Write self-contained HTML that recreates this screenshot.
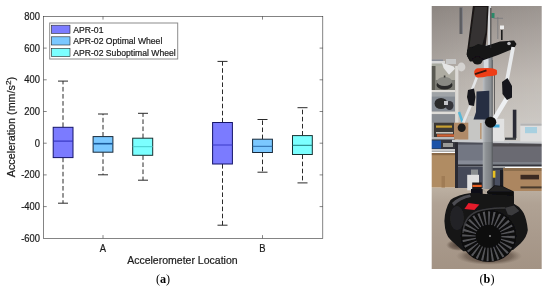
<!DOCTYPE html>
<html><head><meta charset="utf-8">
<style>
html,body{margin:0;padding:0;background:#fff;}
svg{display:block;}
text{font-family:"Liberation Sans",sans-serif;fill:#1c1c1c;stroke:#1c1c1c;stroke-width:0.22px;}
.cap{font-family:"Liberation Serif",serif;fill:#000;font-size:12.2px;stroke:none;}
</style></head><body>
<svg width="550" height="289" viewBox="0 0 550 289">
<rect width="550" height="289" fill="#fff"/>
<!-- axes -->
<g id="axes" stroke="#333" stroke-width="0.6" fill="none">
<rect x="43.5" y="16.4" width="279.3" height="221.9"/>
<!-- y ticks left -->
<path d="M43.5 48.1h3.2M43.5 79.8h3.2M43.5 111.5h3.2M43.5 143.2h3.2M43.5 174.9h3.2M43.5 206.6h3.2"/>
<path d="M322.8 48.1h-3.2M322.8 79.8h-3.2M322.8 111.5h-3.2M322.8 143.2h-3.2M322.8 174.9h-3.2M322.8 206.6h-3.2"/>
<path d="M103 238.3v-3.2M262.5 238.3v-3.2M103 16.4v3.2M262.5 16.4v3.2"/>
</g>
<g transform="scale(0.94,1)">
<g font-size="10" text-anchor="end">
<text x="42.55" y="19.9">800</text>
<text x="42.55" y="51.6">600</text>
<text x="42.55" y="83.3">400</text>
<text x="42.55" y="115">200</text>
<text x="42.55" y="146.7">0</text>
<text x="42.55" y="178.4">-200</text>
<text x="42.55" y="210.1">-400</text>
<text x="42.55" y="241.8">-600</text>
</g>
<g font-size="10" text-anchor="middle">
<text x="109.57" y="252">A</text>
<text x="279.26" y="252">B</text>
</g>
<text x="194.04" y="264.3" font-size="11.2" text-anchor="middle">Accelerometer Location</text>
</g>
<text transform="translate(15.3,127) rotate(-90) scale(0.98,0.95)" font-size="11" text-anchor="middle">Acceleration (mm/s<tspan dy="-4.2" font-size="8.5">2</tspan><tspan dy="4.2">)</tspan></text>
<!-- whiskers -->
<g stroke="#2a2a2a" stroke-width="1" fill="none">
<g stroke-dasharray="4.6 2.5">
<path d="M63 127V81.1M63 157.6V203.2"/>
<path d="M103 136.6V114M103 152.2V174.8"/>
<path d="M143 138.2V113.3M143 155.3V180.2"/>
<path d="M222.5 122.5V61.4M222.5 164V225.2"/>
<path d="M262.5 139.2V119.5M262.5 152.5V172.2"/>
<path d="M302.5 135.6V107.7M302.5 154.5V182.9"/>
</g>
<path d="M58 81.1h10M58 203.2h10M98 114h10M98 174.8h10M138 113.3h10M138 180.2h10M217.5 61.4h10M217.5 225.2h10M257.5 119.5h10M257.5 172.2h10M297.5 107.7h10M297.5 182.9h10"/>
</g>
<!-- boxes -->
<g stroke-width="1">
<rect x="53.2" y="127.3" width="19.8" height="30.3" fill="#7b7bff" stroke="#15156a"/>
<path d="M53.2 141.1H73" stroke="#2c2cb8"/>
<rect x="93.1" y="136.6" width="19.8" height="15.6" fill="#7bc8ff" stroke="#182838"/>
<path d="M93.1 143.7H112.9" stroke="#1a5a9a" stroke-width="1.6"/>
<rect x="132.7" y="138.2" width="20" height="17.1" fill="#7bffff" stroke="#183030"/>
<path d="M132.7 146.7H152.7" stroke="#48cccc"/>
<rect x="212.6" y="122.5" width="19.8" height="41.5" fill="#7b7bff" stroke="#15156a"/>
<path d="M212.6 145H232.4" stroke="#3a3ac8"/>
<rect x="252.6" y="139.2" width="19.8" height="13.3" fill="#7bc8ff" stroke="#182838"/>
<path d="M252.6 146.3H272.4" stroke="#2868a8"/>
<rect x="292.5" y="135.6" width="19.8" height="18.9" fill="#7bffff" stroke="#183030"/>
<path d="M292.5 145.3H312.3" stroke="#1c7878"/>
</g>
<!-- legend -->
<rect x="49.7" y="23.0" width="128" height="36" fill="#fff" stroke="#8c8c8c" stroke-width="1"/>
<g stroke="#262626" stroke-width="0.6">
<rect x="51.4" y="25.2" width="18.6" height="8.2" fill="#7b7bff"/>
<rect x="51.4" y="36.8" width="18.6" height="8.2" fill="#7bc8ff"/>
<rect x="51.4" y="48.4" width="18.6" height="8.2" fill="#7bffff"/>
</g>
<g font-size="9.18" transform="scale(0.94,1)">
<text x="77.98" y="32.8">APR-01</text>
<text x="77.98" y="44.4">APR-02 Optimal Wheel</text>
<text x="77.98" y="56">APR-02 Suboptimal Wheel</text>
</g>
<text class="cap" x="163" y="282.7" text-anchor="middle">(<tspan font-weight="bold">a</tspan>)</text>
<text class="cap" x="487" y="282.7" text-anchor="middle">(<tspan font-weight="bold">b</tspan>)</text>
<!-- photo -->
<defs>
<clipPath id="pc"><rect x="431.7" y="6" width="110" height="263.2"/></clipPath>
<linearGradient id="wall" x1="0" y1="0" x2="0" y2="1">
<stop offset="0" stop-color="#958e89"/><stop offset="0.25" stop-color="#a8a19c"/><stop offset="0.55" stop-color="#bdb7b1"/><stop offset="0.85" stop-color="#c9c5c0"/><stop offset="1" stop-color="#ccc8c4"/>
</linearGradient>
<linearGradient id="wallv" x1="0" y1="0" x2="1" y2="0">
<stop offset="0" stop-color="#000" stop-opacity="0.06"/><stop offset="0.45" stop-color="#000" stop-opacity="0"/><stop offset="0.55" stop-color="#fff" stop-opacity="0"/><stop offset="1" stop-color="#fff" stop-opacity="0.06"/>
</linearGradient>
<linearGradient id="floor" x1="0" y1="0" x2="0" y2="1">
<stop offset="0" stop-color="#bcb0a2"/><stop offset="0.2" stop-color="#b0a294"/><stop offset="0.6" stop-color="#a99a8c"/><stop offset="1" stop-color="#a39384"/>
</linearGradient>
<linearGradient id="pole" x1="0" y1="0" x2="1" y2="0">
<stop offset="0" stop-color="#bcc0c4"/><stop offset="0.3" stop-color="#9ea2a6"/><stop offset="0.8" stop-color="#8a8e92"/><stop offset="1" stop-color="#5c6064"/>
</linearGradient>
<radialGradient id="shad" cx="0.5" cy="0.5" r="0.5">
<stop offset="0" stop-color="#3a2c24" stop-opacity="0.85"/><stop offset="0.7" stop-color="#4a3a30" stop-opacity="0.5"/><stop offset="1" stop-color="#6a5a4c" stop-opacity="0"/>
</radialGradient>
<filter id="bl" x="-5%" y="-5%" width="110%" height="110%"><feGaussianBlur stdDeviation="0.5"/></filter>
</defs>
<g id="photo" clip-path="url(#pc)">
<g filter="url(#bl)">
<rect x="425" y="6" width="125" height="136" fill="url(#wall)"/>
<rect x="431.7" y="6" width="110" height="136" fill="url(#wallv)"/>
<!-- floor -->
<rect x="425" y="187.5" width="125" height="81.5" fill="url(#floor)"/>
<!-- pipe -->
<rect x="459.5" y="7.5" width="3.2" height="26.5" fill="#5c5d61"/>
<rect x="461.9" y="7.5" width="0.9" height="26.5" fill="#85868a"/>
<!-- shelf unit left -->
<rect x="431" y="68" width="24" height="84" fill="#9a9c9c"/>
<rect x="431" y="59.5" width="12" height="1.6" fill="#8a8e98"/>
<rect x="431" y="61" width="14" height="2.8" fill="#d8d8d8"/>
<rect x="431" y="63.6" width="14" height="4.6" fill="#a8aaa0"/>
<rect x="431" y="66" width="24" height="24" fill="#aeaca2"/>
<rect x="431" y="66" width="4.5" height="24" fill="#5a5a52"/>
<rect x="435" y="80" width="20" height="10" fill="#7c7c74"/>
<rect x="446" y="59" width="10" height="5" fill="#c8c8c8"/>
<ellipse cx="444.5" cy="85" rx="8" ry="4.5" fill="#2c2c2a"/>
<ellipse cx="444.5" cy="81.5" rx="7.5" ry="4.6" fill="#8a8a84"/>
<rect x="443.8" y="75.5" width="1.6" height="2" fill="#3a3a38"/>
<rect x="431" y="90" width="24" height="2.6" fill="#dedcd8"/>
<rect x="431" y="92.6" width="24" height="19" fill="#868c94"/>
<rect x="431" y="92.6" width="24" height="4" fill="#a0a4a8"/>
<ellipse cx="441" cy="103.5" rx="6.5" ry="5.5" fill="#2a2a2c"/>
<ellipse cx="449.5" cy="105.5" rx="4" ry="4.5" fill="#34343a"/>
<rect x="444" y="101" width="4" height="4" fill="#c4c4c8"/>
<rect x="431" y="111.6" width="24" height="2.6" fill="#dedcd8"/>
<rect x="431" y="114.2" width="24" height="8.5" fill="#8a8e94"/>
<rect x="434" y="122.7" width="20" height="14.3" fill="#3a3836"/>
<rect x="436" y="125.5" width="16" height="2.2" fill="#c8a030"/>
<rect x="436" y="132" width="17" height="1.6" fill="#c8c4bc"/>
<rect x="437" y="134.3" width="17" height="2.4" fill="#d06030"/>
<rect x="431" y="137" width="24" height="2.5" fill="#b8babc"/>
<rect x="431" y="139.5" width="24" height="9.5" fill="#34363c"/>
<rect x="431" y="140.5" width="10" height="8" fill="#1c52a8"/>
<rect x="443" y="143" width="10" height="4" fill="#9a9a98"/>
<rect x="431" y="149" width="24" height="2.4" fill="#cacaca"/>
<rect x="455.2" y="66" width="3.2" height="74" fill="#dcdad6"/>
<!-- lamp -->
<polygon points="441.8,62.5 453.6,66.5 455,68.8 449,74.7 443.6,68" fill="#e6e6e6"/>
<ellipse cx="461.4" cy="67" rx="4" ry="4.4" fill="#d4d2d0"/>
<!-- table & under -->
<rect x="458" y="142" width="26" height="23" fill="#737783"/>
<rect x="458" y="142" width="26" height="2.6" fill="#4e505a"/>
<rect x="458" y="160.5" width="26" height="4" fill="#878b97"/>
<rect x="490" y="142" width="57" height="21" fill="#6a6a72"/>
<rect x="490" y="143.5" width="57" height="3" fill="#4c4a4e"/>
<rect x="490" y="162" width="57" height="4" fill="#7c8088"/>
<rect x="455" y="140" width="3" height="48" fill="#2a2a30"/>
<rect x="458" y="164.5" width="89" height="2" fill="#34363e"/>
<rect x="458" y="166.5" width="26" height="21.5" fill="#454858"/>
<rect x="490" y="167.5" width="15" height="22" fill="#35373f"/>
<polygon points="452,139.8 545,141.4 545,143.7 452,142.1" fill="#c8cacd"/>
<!-- clutter on table -->
<rect x="468" y="116" width="15" height="24" fill="#c6c6c4"/>
<rect x="454" y="122.7" width="14.3" height="16.8" fill="#b08a68"/>
<ellipse cx="461.7" cy="127.7" rx="4" ry="4.3" fill="#1c1a1a"/>
<rect x="480" y="123" width="1.6" height="16" fill="#b89878"/>
<rect x="492.2" y="118.8" width="12" height="22.5" fill="#e2e2e2"/>
<rect x="492.5" y="124.5" width="7" height="3" fill="#40a8d8"/>
<rect x="512.8" y="109.7" width="3.6" height="28.5" fill="#2a2c34"/>
<rect x="505" y="137.6" width="11" height="2.2" fill="#3a3c40"/>
<rect x="520.3" y="123.5" width="21.7" height="18" fill="#dedede"/>
<rect x="520.3" y="123.5" width="21.7" height="2.2" fill="#b4b4b4"/>
<rect x="525" y="127" width="12" height="6.2" fill="#a8d0e0"/>
<path d="M459 112 L462.5 122" stroke="#58b8d8" stroke-width="2.4"/>
<!-- boxes -->
<rect x="431" y="153" width="24" height="34.5" fill="#b08c63"/>
<rect x="431" y="153" width="24" height="2.2" fill="#8a6a48"/>
<rect x="441.5" y="176" width="3.5" height="11.5" fill="#a07c54"/>
<rect x="503.3" y="168" width="40" height="23" fill="#ac8660"/>
<rect x="503.3" y="168" width="40" height="3" fill="#8c6e4e"/>
<rect x="520.5" y="174.8" width="18.5" height="4.6" fill="#3a2c24"/>
<rect x="520.5" y="186.4" width="22" height="2" fill="#4a3a2e"/>
<rect x="471" y="169.5" width="7" height="6" fill="#8a8e90"/>
<rect x="467.2" y="174.8" width="11.8" height="15.5" fill="#e0e0e0"/>
<rect x="495" y="170" width="7" height="16" fill="#4a5060"/>
<rect x="500" y="170" width="3" height="18" fill="#1a1a20"/>
<rect x="492.2" y="170.7" width="3.2" height="7" fill="#e8c020"/>
<!-- central pole -->
<rect x="482.8" y="60" width="10" height="129" fill="url(#pole)"/>
<rect x="488" y="6" width="3" height="60" fill="#d6d8da"/>
<rect x="484" y="45" width="8.5" height="30" fill="url(#pole)"/>
<rect x="484" y="50" width="4.5" height="26" fill="#d6dade"/>
<path d="M494.5 70 V118" stroke="#3a3838" stroke-width="0.7"/>
<!-- monitor -->
<polygon points="473,5 488.7,5 487,34 484,60 470,61 466.5,54.6 467.5,48" fill="#1a1818"/>
<polygon points="474.8,7 487,7 485.7,32 482,46 469.3,47" fill="#343331"/>
<!-- arm top -->
<polygon points="467,50 478,44 486,46 500,41.5 514,40.5 516.5,44 514,48.5 498,55 481,61 470,61.5 467,56" fill="#121214"/>
<rect x="501" y="30" width="1.6" height="10" fill="#1a1a1a"/>
<rect x="500" y="25.5" width="4" height="3.6" fill="#eeeeee"/>
<rect x="491.5" y="13" width="3" height="5" fill="#2a8a6a"/>
<rect x="490.3" y="8" width="1" height="40" fill="#333"/>
<circle cx="509" cy="43.5" r="1.8" fill="#b8b8bc"/>
<path d="M497.8 17 V39 M493.5 18.3 H503" stroke="#77787c" stroke-width="0.8" fill="none"/>
<rect x="482.8" y="142" width="10" height="47" fill="#000" opacity="0.1"/>
<!-- white tubes -->
<path d="M513.2 47 L507 80" stroke="#e8eaec" stroke-width="3.7"/>
<path d="M507 98 L494.3 119" stroke="#eef0f2" stroke-width="4.4"/>
<path d="M476.8 77.3 L472 90" stroke="#e4e6e8" stroke-width="2.6"/>
<path d="M470.6 105.5 L463.3 122.5" stroke="#e4e6e8" stroke-width="2.8"/>
<!-- grippers -->
<polygon points="502,82 507.5,78 512,86 512,97.5 507,100 502.5,94" fill="#17171a"/>
<polygon points="468,90 474,88.5 475.5,97 474,106 469,105 467,97" fill="#17171a"/>
<!-- joint + red ring -->
<ellipse cx="477.5" cy="60.5" rx="5" ry="4" fill="#141212"/>
<path d="M474.2 71.5 Q475 68.5 478 68.3 L488 68 Q494 68.2 496.8 70 Q497.6 73 496.5 75 Q492 76.3 487.5 76.2 Q483 77.8 477 77.6 Q474 76 474.2 71.5Z" fill="#ee3e16"/>
<path d="M475 74.2 L486.5 70.3" stroke="#3a1810" stroke-width="1.8"/>
<!-- navy box -->
<polygon points="476.5,91.5 489.3,90.8 489.3,119.5 473.5,119.5 474.5,116.5 476,112" fill="#262d42"/>
<ellipse cx="490.6" cy="122.2" rx="5.7" ry="5.5" fill="#111"/>
<!-- robot base -->
<ellipse cx="489" cy="256" rx="33" ry="9" fill="url(#shad)"/>
<ellipse cx="459" cy="245" rx="13" ry="6" fill="url(#shad)"/>
<rect x="472.2" y="182.5" width="9.5" height="10.5" fill="#1a1614"/>
<rect x="472.4" y="184.8" width="9.3" height="2.2" fill="#e86020"/>
<rect x="471" y="189" width="11.7" height="12" fill="#101012"/>
<polygon points="487,191.6 494.7,185.2 502.4,185.9 513.9,191.6 513.9,204 487,204" fill="#0e0e10"/>
<polygon points="488.2,191.4 494.9,185.9 502.2,186.5 512.5,191.6" fill="#222224"/>
<path d="M482.5 189 L497.2 203.2" stroke="#8a8a8a" stroke-width="0.6"/>
<path d="M471 193 L513.9 196 L513.9 203.8 L519 207 Q522.5 211 523.6 213 Q526.7 219 527.8 230 Q527 237 520.5 243.5 L513 250 L463.3 251.3 L451 240.2 Q445 236 444.4 221 Q444.8 209 450.5 200 Q458 194.5 471 193 Z" fill="#151517"/>
<path d="M452 203 Q458 196.5 470 194.5 L471 197 Q460 199 454 206 Z" fill="#4e4e52"/>
<ellipse cx="457" cy="218" rx="7" ry="12" fill="#242426"/>
<ellipse cx="488.5" cy="236" rx="27.8" ry="26" fill="#09090b"/>
<path d="M463 233 Q464 217 477 211.5 Q489 207.5 505 208" stroke="#3a3a3d" stroke-width="1.6" fill="none"/>
<polygon points="505,207.8 514,205.5 519.4,211 511.7,215.5 507.8,214.4" fill="#3a3a3c"/>
<ellipse cx="488.5" cy="236.3" rx="19.6" ry="18.2" fill="none" stroke="#545458" stroke-width="13.5" stroke-dasharray="1.7 2.5"/>
<ellipse cx="488.5" cy="236.3" rx="11.5" ry="10.5" fill="#0c0c0e"/>
<circle cx="490" cy="236" r="1" fill="#8a8a8a"/>
<polygon points="468.5,203.1 479.4,204.4 474.4,210 464.4,209.1" fill="#e41a2c"/>
</g>
</g>
</svg>
</body></html>
